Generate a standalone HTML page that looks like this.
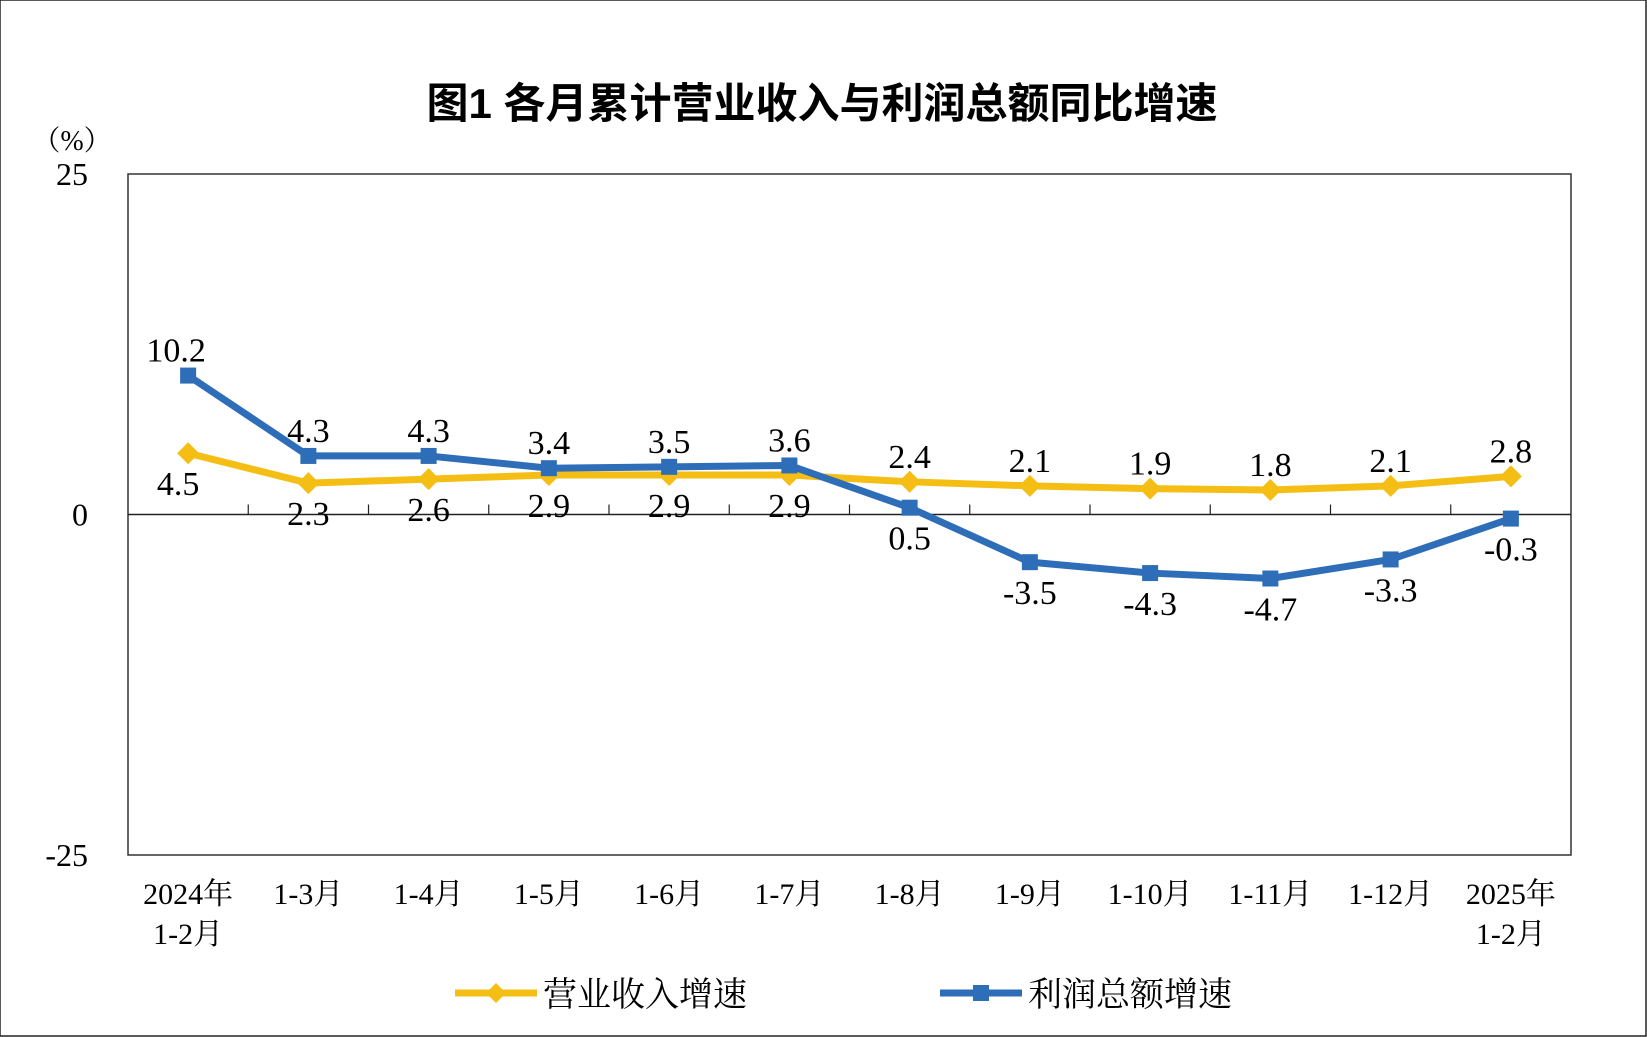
<!DOCTYPE html>
<html><head><meta charset="utf-8"><style>
body{margin:0;background:#fff}
svg{display:block}
.t{font-family:"Liberation Serif","Noto Serif CJK SC",serif;fill:#000}
</style></head><body>
<svg id="c" width="1647" height="1037" xmlns="http://www.w3.org/2000/svg">
<rect x="0" y="0" width="1646" height="1036" fill="#fff" stroke="#222" stroke-width="1.5"/>
<text x="822" y="118" text-anchor="middle" font-family="'Liberation Sans','Noto Sans CJK SC',sans-serif" font-size="42" font-weight="bold">图1  各月累计营业收入与利润总额同比增速</text>
<text class="t" x="72" y="150" text-anchor="middle" font-size="28">（%）</text>
<rect x="128" y="174" width="1443" height="681" fill="none" stroke="#333" stroke-width="1.5"/>
<g id="axes"></g><g id="series"></g>
<g>
<line x1="455" y1="993" x2="537" y2="993" stroke="#F5BE14" stroke-width="7"/>
<path d="M496 983 L506 993 L496 1003 L486 993Z" fill="#F5BE14"/>
<text class="t" x="543" y="1006" font-size="34">营业收入增速</text>
<line x1="940" y1="993" x2="1022" y2="993" stroke="#2E6DB8" stroke-width="7"/>
<rect x="973" y="985" width="16" height="16" fill="#2E6DB8"/>
<text class="t" x="1028" y="1006" font-size="34">利润总额增速</text>
</g>
</svg>
<script>
const categories=[["2024年","1-2月"],["1-3月"],["1-4月"],["1-5月"],["1-6月"],["1-7月"],["1-8月"],["1-9月"],["1-10月"],["1-11月"],["1-12月"],["2025年","1-2月"]];
const revenue=[4.5,2.3,2.6,2.9,2.9,2.9,2.4,2.1,1.9,1.8,2.1,2.8];
const profit=[10.2,4.3,4.3,3.4,3.5,3.6,0.5,-3.5,-4.3,-4.7,-3.3,-0.3];
const yTicks=[25,0,-25];
const revenueBelow=[1,1,1,1,1,1,0,0,0,0,0,0];
const profitBelow=[0,0,0,0,0,0,1,1,1,1,1,1];
const L=128,R=1571,T=174,B=855,ymin=-25,ymax=25;
const step=(R-L)/categories.length;
const x=i=>L+step*(i+0.5);
const y=v=>B-(v-ymin)/(ymax-ymin)*(B-T);
const NS="http://www.w3.org/2000/svg";
function mk(tag,attrs,parent,txt){const e=document.createElementNS(NS,tag);for(const k in attrs)e.setAttribute(k,attrs[k]);if(txt!==undefined)e.textContent=txt;parent.appendChild(e);return e;}
const ax=document.getElementById('axes'),sg=document.getElementById('series');
const z=mk('line',{x1:L,x2:R,y1:y(0),y2:y(0),stroke:'#222','stroke-width':1.5},ax);


for(let i=1;i<categories.length;i++){const t=mk('line',{x1:L+step*i,x2:L+step*i,y1:y(0),y2:y(0)-10,stroke:'#222','stroke-width':1.2},ax);

}
yTicks.forEach(v=>{const t=mk('text',{class:'t',x:88,y:y(v)+11,'text-anchor':'end','font-size':32},ax,String(v));

});
categories.forEach((c,i)=>{c.forEach((s,j)=>{const t=mk('text',{class:'t',x:x(i),y:904+j*40,'text-anchor':'middle','font-size':30},ax,s);

});});
function series(vals,color,name,below,diamond){
const p=mk('polyline',{points:vals.map((v,i)=>x(i)+','+y(v)).join(' '),fill:'none',stroke:color,'stroke-width':7,'stroke-linejoin':'round'},sg);


vals.forEach((v,i)=>{const cx=x(i),cy=y(v);let m;
if(diamond)m=mk('path',{d:`M${cx} ${cy-11}L${cx+11} ${cy}L${cx} ${cy+11}L${cx-11} ${cy}Z`,fill:color},sg);
else m=mk('rect',{x:cx-8,y:cy-8,width:16,height:16,fill:color},sg);


const ly=below[i]?cy+42:cy-14;
const t=mk('text',{class:'t',x:cx-(i==0&&!diamond?12:0)-(i==0&&diamond?10:0),y:ly,'text-anchor':'middle','font-size':34},sg,v.toFixed(1));

});}
series(revenue,'#F5BE14','revenue',revenueBelow,true);
series(profit,'#2E6DB8','profit',profitBelow,false);
</script>
</body></html>
